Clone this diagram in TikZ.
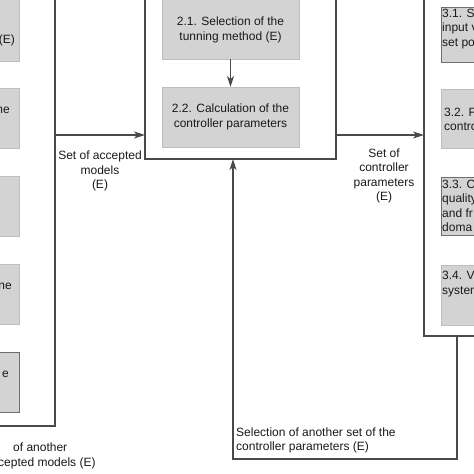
\documentclass[tikz,border=0pt]{standalone}
\usepackage{fontspec}
\setmainfont{Liberation Sans}
\usetikzlibrary{arrows.meta}
\definecolor{linec}{HTML}{4A4A4A}
\definecolor{txtc}{HTML}{1A1A1A}
\definecolor{grayfill}{HTML}{D3D3D3}
\definecolor{grayedge}{HTML}{BEBEBE}
\definecolor{darkedge}{HTML}{6E6E6E}
\begin{document}
\begin{tikzpicture}[x=1pt,y=-1pt,
  every node/.style={font=\fontsize{12}{14.5}\selectfont, text=txtc},
  bigbox/.style={draw=linec, line width=1.3pt, fill=white, inner sep=0pt, outer sep=0pt},
  graybox/.style={draw=grayedge, line width=0.8pt, fill=grayfill, inner sep=0pt, outer sep=0pt},
  darkbox/.style={graybox, draw=darkedge},
  lbl/.style={inner sep=0pt, align=center},
  ltxt/.style={inner sep=0pt, align=left},
  arr/.style={draw=linec, line width=1.2pt, -{Stealth[length=11pt,width=7pt,inset=3pt]}},
  conn/.style={draw=linec, line width=1.2pt}
]
\useasboundingbox (0,0) rectangle (474,474);
\fill[white] (0,0) rectangle (474,474);
\clip (0,0) rectangle (474,474);

% big boxes
\node[bigbox, minimum width=155pt, minimum height=436pt] (lbox) at (-22.5,208) {};
\node[bigbox, minimum width=191pt, minimum height=169pt] (mbox) at (240.5,74.5) {};
\node[bigbox, minimum width=76pt, minimum height=346pt] (rbox) at (462,163) {};

% left column boxes
\node[graybox, minimum width=119pt, minimum height=71pt] (l1) at (-40.5,25.5) {};
\node[graybox, minimum width=119pt, minimum height=60pt] (l2) at (-40.5,118) {};
\node[graybox, minimum width=119pt, minimum height=60pt] (l3) at (-40.5,206) {};
\node[graybox, minimum width=119pt, minimum height=60pt] (l4) at (-40.5,294) {};
\node[darkbox, minimum width=119pt, minimum height=60pt] (l5) at (-40.5,382) {};
\node[ltxt, anchor=east] (tl1) at (15,40) {(E)};
\node[ltxt, anchor=east] (tl2) at (10,110) {ne};
\node[ltxt, anchor=east] (tl4) at (12,286) {ne};
\node[ltxt, anchor=east] (tl5) at (9,374) {e};

% middle column boxes
\node[graybox, minimum width=137pt, minimum height=69pt] (m1) at (230.5,24.5) {};
\node[lbl] (tm1) at (230.5,30) {2.1. Selection of the\\tunning method (E)};
\node[graybox, minimum width=137pt, minimum height=60pt, align=center] (m2) at (230.5,117) {2.2. Calculation of the\\controller parameters};

% right column boxes
\node[darkbox, minimum width=79pt, minimum height=55pt] (r1) at (480.5,34.5) {};
\node[graybox, minimum width=79pt, minimum height=59pt] (r2) at (480.5,118.5) {};
\node[darkbox, minimum width=79pt, minimum height=58pt] (r3) at (480.5,206) {};
\node[graybox, minimum width=79pt, minimum height=60pt] (r4) at (480.5,295) {};
\node[ltxt, anchor=west] (tr1) at (442,29) {3.1. Se\\input v\\set po};
\node[ltxt, anchor=west] (tr2) at (444,119.5) {3.2. F\\contro};
\node[ltxt, anchor=west] (tr3) at (442,206) {3.3. C\\quality\\and fr\\doma};
\node[ltxt, anchor=west] (tr4) at (442,284) {3.4. V\\system};

% connectors
\coordinate (y1) at (0,135);
\draw[arr] (lbox.east |- y1) -- (mbox.west |- y1);
\draw[arr] (mbox.east |- y1) -- (rbox.west |- y1);
\draw[arr] (m1.south) -- (m2.north);
\coordinate (b1) at (457,459);
\coordinate (b2) at (233,459);
\draw[arr] (b1 |- rbox.south) -- (b1) -- (b2) -- (b2 |- mbox.south);

% connector labels
\node[lbl] (e1) at (100,171) {Set of accepted\\models\\(E)};
\node[lbl] (e2) at (384,176) {Set of\\controller\\parameters\\(E)};
\node[ltxt, anchor=west] (e3) at (236,440.5) {Selection of another set of the\\controller parameters (E)};
\node[ltxt, anchor=west] (e4) at (-2,456) {\hspace*{15pt}of another\\cepted models (E)};
\end{tikzpicture}
\end{document}
